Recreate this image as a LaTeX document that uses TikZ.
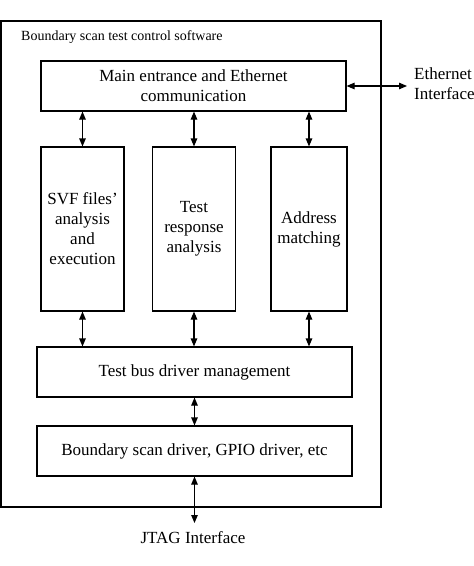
\documentclass[tikz,border=0pt]{standalone}
\usepackage{fontspec}
\setmainfont{Liberation Serif}
\usetikzlibrary{arrows.meta}
\begin{document}
\begin{tikzpicture}[x=1pt,y=-1pt,
  blk/.style={draw, line width=1.1pt, inner sep=0pt, align=center, font=\fontsize{17}{20}\selectfont},
  conn/.style={line width=1.1pt, {Triangle[length=8pt,width=6.5pt]}-{Triangle[length=8pt,width=6.5pt]}},
  lbl/.style={inner sep=0pt, font=\fontsize{17}{20}\selectfont}]
\useasboundingbox (0,0) rectangle (474,566);
\node[draw, line width=1.6pt, minimum width=380pt, minimum height=486pt, inner sep=0pt] (outer) at (191,264) {};
\node[anchor=west, inner sep=0pt, font=\fontsize{14}{16}\selectfont] (title) at (21,37) {Boundary scan test control software};
\node[blk, minimum width=305pt, minimum height=50pt] (main) at (193.5,86) {Main entrance and Ethernet\\communication};
\node[blk, minimum width=83pt, minimum height=164pt] (c1) at (82.5,229) {SVF files'\\analysis\\and\\execution};
\node[blk, minimum width=83pt, minimum height=164pt] (c2) at (194,229) {Test\\response\\analysis};
\node[blk, minimum width=76pt, minimum height=164pt] (c3) at (309,229) {Address\\matching};
\node[blk, minimum width=315pt, minimum height=50pt] (bus) at (194.5,372) {Test bus driver management};
\node[blk, minimum width=315pt, minimum height=50pt] (drv) at (194.5,451) {Boundary scan driver, GPIO driver, etc};
\coordinate (jt) at (194.5,523);
\coordinate (et) at (407,86);
\node[lbl] (jtag) at (193,538) {JTAG Interface};
\node[lbl, anchor=west, align=left] (eth) at (414,84) {Ethernet\\Interface};
\foreach \c in {c1,c2,c3}{
  \draw[conn] (\c.north |- main.south) -- (\c.north);
  \draw[conn] (\c.south) -- (\c.south |- bus.north);
}
\draw[conn] (bus.south) -- (drv.north);
\draw[conn] (drv.south) -- (jt);
\draw[conn] (main.east) -- (et);
\end{tikzpicture}
\end{document}
